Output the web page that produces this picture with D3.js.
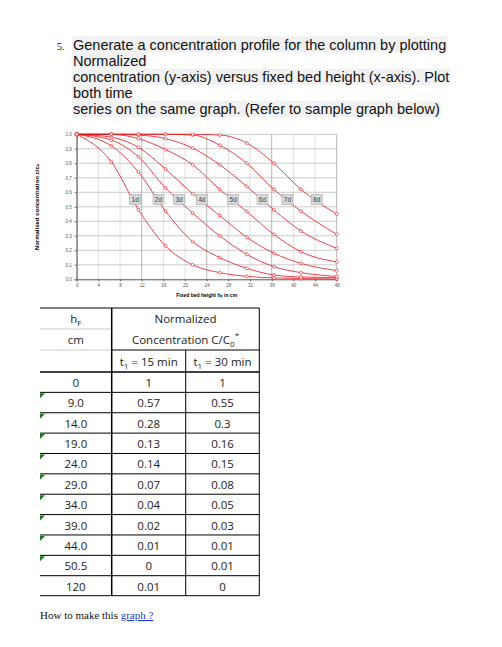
<!DOCTYPE html>
<html><head><meta charset="utf-8">
<script src="https://cdn.jsdelivr.net/npm/d3@7"></script>
<style>body{margin:0;background:#fff}</style>
</head><body><div id="page"></div>
<script>
// sample graph data
const xPos = [0, 6.4, 11.4, 16.4, 21.4, 26.4, 31.4, 36.4, 41.4, 48];
const curveNames = ["1d", "2d", "3d", "4d", "5d", "6d", "7d", "8d"];
const curveValues = [
    [1, 0.81, 0.48, 0.23, 0.10, 0.046, 0.02, 0.01, 0.005, 0.002],
    [1, 0.92, 0.74, 0.47, 0.26, 0.15, 0.076, 0.03, 0.016, 0.012],
    [1, 0.96, 0.845, 0.63, 0.457, 0.30, 0.172, 0.087, 0.046, 0.02],
    [1, 0.98, 0.91, 0.76, 0.59, 0.44, 0.29, 0.18, 0.11, 0.06],
    [1, 1.0, 0.97, 0.895, 0.79, 0.62, 0.467, 0.31, 0.19, 0.12],
    [1, 1.0, 0.995, 0.97, 0.905, 0.79, 0.64, 0.478, 0.333, 0.214],
    [1, 1.0, 1.0, 1.0, 0.995, 0.925, 0.80, 0.62, 0.47, 0.31],
    [1, 1.0, 1.0, 1.0, 1.0, 0.995, 0.94, 0.80, 0.62, 0.45]
];
const labelX = [10.8, 15.1, 18.9, 23.1, 28.9, 34.3, 38.9, 44.3];
const xTicks = d3.range(0, 49, 4);
const yTicks = d3.range(0, 11).map(d => d / 10);

// table data
const heights = ["0", "9.0", "14.0", "19.0", "24.0", "29.0", "34.0", "39.0", "44.0", "50.5", "120"];
const conc15 = ["1", "0.57", "0.28", "0.13", "0.14", "0.07", "0.04", "0.02", "0.01", "0", "0.01"];
const conc30 = ["1", "0.55", "0.3", "0.16", "0.15", "0.08", "0.05", "0.03", "0.01", "0.01", "0"];

const questionLines = [
    "Generate a concentration profile for the column by plotting",
    "Normalized",
    "concentration (y-axis) versus fixed bed height (x-axis). Plot",
    "both time",
    "series on the same graph. (Refer to sample graph below)"
];

const svg = d3.select("#page").append("svg").attr("width", 502).attr("height", 647);

// subscript / superscript helpers (dy based)
function sub(t, s, size, up) {
    let d = up ? -4 : 3;
    t.append("tspan").attr("dy", d).style("font-size", size + "px").text(s);
    return t.append("tspan").attr("dy", -d);
}

// question text
svg.append("text").attr("x", 57).attr("y", 49.5)
    .style("font-family", "Liberation Serif").style("font-size", "10px").text("5.");
questionLines.forEach((t, i) => {
    let tx = svg.append("text").attr("x", 73).attr("y", 49.5 + i * 16.1)
        .style("font-family", "Liberation Sans, Arial").style("font-size", "14.5px")
        .attr("fill", "#111").text(t);
    let w = tx.node().getComputedTextLength();
    svg.insert("rect", "text").attr("x", 72).attr("y", 49.5 + i * 16.1 - 13)
        .attr("width", w + 2).attr("height", 16).attr("fill", "#f1f1f1");
});

// chart
const x = d3.scaleLinear().domain([0, 48]).range([76.7, 336.7]);
const y = d3.scaleLinear().domain([0, 1]).range([279.3, 134.3]);
const chart = svg.append("g");

chart.selectAll(".vgrid").data(xTicks).enter().append("line")
    .attr("x1", d => x(d)).attr("x2", d => x(d)).attr("y1", y(0)).attr("y2", y(1))
    .attr("stroke", d => d % 12 === 0 ? "#888" : "#ccc").attr("stroke-width", 0.6);
chart.selectAll(".hgrid").data(yTicks).enter().append("line")
    .attr("x1", x(0)).attr("x2", x(48)).attr("y1", d => y(d)).attr("y2", d => y(d))
    .attr("stroke", "#999").attr("stroke-width", 0.5);

chart.append("g").attr("transform", `translate(0,${y(0)})`)
    .call(d3.axisBottom(x).tickValues(xTicks).tickSize(2).tickFormat(d3.format("d")))
    .call(g => g.selectAll("text").style("font-size", "4.5px").attr("fill", "#555").attr("dy", "0.5em"))
    .call(g => g.selectAll("line,path").attr("stroke", "#666"));
chart.append("g").attr("transform", `translate(${x(0)},0)`)
    .call(d3.axisLeft(y).tickValues(yTicks).tickSize(2).tickFormat(d => d3.format(".1f")(d).replace(".", ",")))
    .call(g => g.selectAll("text").style("font-size", "4.5px").attr("fill", "#555"))
    .call(g => g.selectAll("line,path").attr("stroke", "#666"));

let xl = chart.append("text").attr("x", x(24)).attr("y", 297).attr("text-anchor", "middle")
    .style("font-family", "Liberation Sans").style("font-size", "5px").style("font-weight", "bold")
    .text("Fixed bed height h");
xl.append("tspan").attr("dy", 1).style("font-size", "3.5px").text("F");
xl.append("tspan").attr("dy", -1).text(" in cm");
chart.append("text").attr("transform", `translate(39,${y(0.5)}) rotate(-90)`).attr("text-anchor", "middle")
    .style("font-family", "Liberation Sans").style("font-size", "6px").style("font-weight", "bold")
    .text("Normalised concentration c/c\u2080");

const line = d3.line().x((d, i) => x(xPos[i])).y(d => y(d)).curve(d3.curveMonotoneX);
curveValues.forEach(vals => {
    chart.append("path").attr("d", line(vals)).attr("fill", "none").attr("stroke", "#e8141c").attr("stroke-width", 0.8);
    chart.selectAll(null).data(vals).enter().append("circle")
        .attr("cx", (d, i) => x(xPos[i])).attr("cy", d => y(d)).attr("r", 1.5)
        .attr("fill", "#fff").attr("stroke", "#e8141c").attr("stroke-width", 0.6);
});
curveNames.forEach((n, i) => {
    chart.append("rect").attr("x", x(labelX[i]) - 5.5).attr("y", y(0.55) - 5).attr("width", 11).attr("height", 10)
        .attr("fill", "#d8d8d8").attr("stroke", "#999").attr("stroke-width", 0.5);
    chart.append("text").attr("x", x(labelX[i])).attr("y", y(0.55) + 2.2).attr("text-anchor", "middle")
        .style("font-family", "Liberation Sans").style("font-size", "6.5px").attr("fill", "#444").text(n);
});

// table
const cx = [40, 111.7, 185.7, 259.3];
const rowTop = 372, rowH = 20.37;
const tbl = svg.append("g").style("font-family", "Open Sans, Lato").style("font-size", "11.5px").attr("fill", "#222");
const txt = (xx, yy, t) => tbl.append("text").attr("x", xx).attr("y", yy).attr("text-anchor", "middle").text(t);

tbl.append("line").attr("x1", 40).attr("x2", cx[3]).attr("y1", 308).attr("y2", 308).attr("stroke", "#000");
tbl.append("line").attr("x1", 40).attr("x2", cx[1]).attr("y1", 329).attr("y2", 329).attr("stroke", "#ccc");
tbl.append("line").attr("x1", 40).attr("x2", cx[1]).attr("y1", 350).attr("y2", 350).attr("stroke", "#ccc");
tbl.append("line").attr("x1", cx[1]).attr("x2", cx[3]).attr("y1", 350).attr("y2", 350).attr("stroke", "#000");
tbl.append("line").attr("x1", cx[2]).attr("x2", cx[2]).attr("y1", 350).attr("y2", 595.7).attr("stroke", "#000");
tbl.append("line").attr("x1", cx[1]).attr("x2", cx[1]).attr("y1", 308).attr("y2", 595.7).attr("stroke", "#000").attr("stroke-width", 1.5);
tbl.append("line").attr("x1", cx[3]).attr("x2", cx[3]).attr("y1", 308).attr("y2", 595.7).attr("stroke", "#000");

sub(txt((cx[0] + cx[1]) / 2, 323, "h"), "F", 8);
txt((cx[0] + cx[1]) / 2, 344, "cm");
txt((cx[1] + cx[3]) / 2, 323, "Normalized");
let cc = txt((cx[1] + cx[3]) / 2, 344, "Concentration C/C");
cc.append("tspan").attr("dy", 3).style("font-size", "8px").text("0");
cc.append("tspan").attr("dy", -9).style("font-size", "8px").text("*");
[["15", cx[1], cx[2]], ["30", cx[2], cx[3]]].forEach(([m, a, b]) => {
    sub(txt((a + b) / 2, 366, "t"), "1", 8).text(` = ${m} min`);
});

heights.forEach((h, i) => {
    let top = rowTop + i * rowH;
    tbl.append("line").attr("x1", 40).attr("x2", cx[3]).attr("y1", top).attr("y2", top)
        .attr("stroke", "#000").attr("stroke-width", i === 0 ? 1.6 : 1);
    txt((cx[0] + cx[1]) / 2, top + 15, h);
    txt((cx[1] + cx[2]) / 2, top + 15, conc15[i]);
    txt((cx[2] + cx[3]) / 2, top + 15, conc30[i]);
    if (i > 0 && i < heights.length - 1) {
        tbl.append("path").attr("d", `M40,${top + 1}l5,0l-5,5z`).attr("fill", "#1a7a1a");
    }
});
tbl.append("line").attr("x1", 40).attr("x2", cx[3]).attr("y1", 595.7).attr("y2", 595.7).attr("stroke", "#000");

// footer
const foot = svg.append("text").attr("x", 40).attr("y", 619)
    .style("font-family", "Liberation Serif").style("font-size", "11px").attr("fill", "#111");
foot.append("tspan").text("How to make this ");
foot.append("tspan").attr("fill", "#1a3ccc").style("text-decoration", "underline").text("graph ?");
</script></body></html>
